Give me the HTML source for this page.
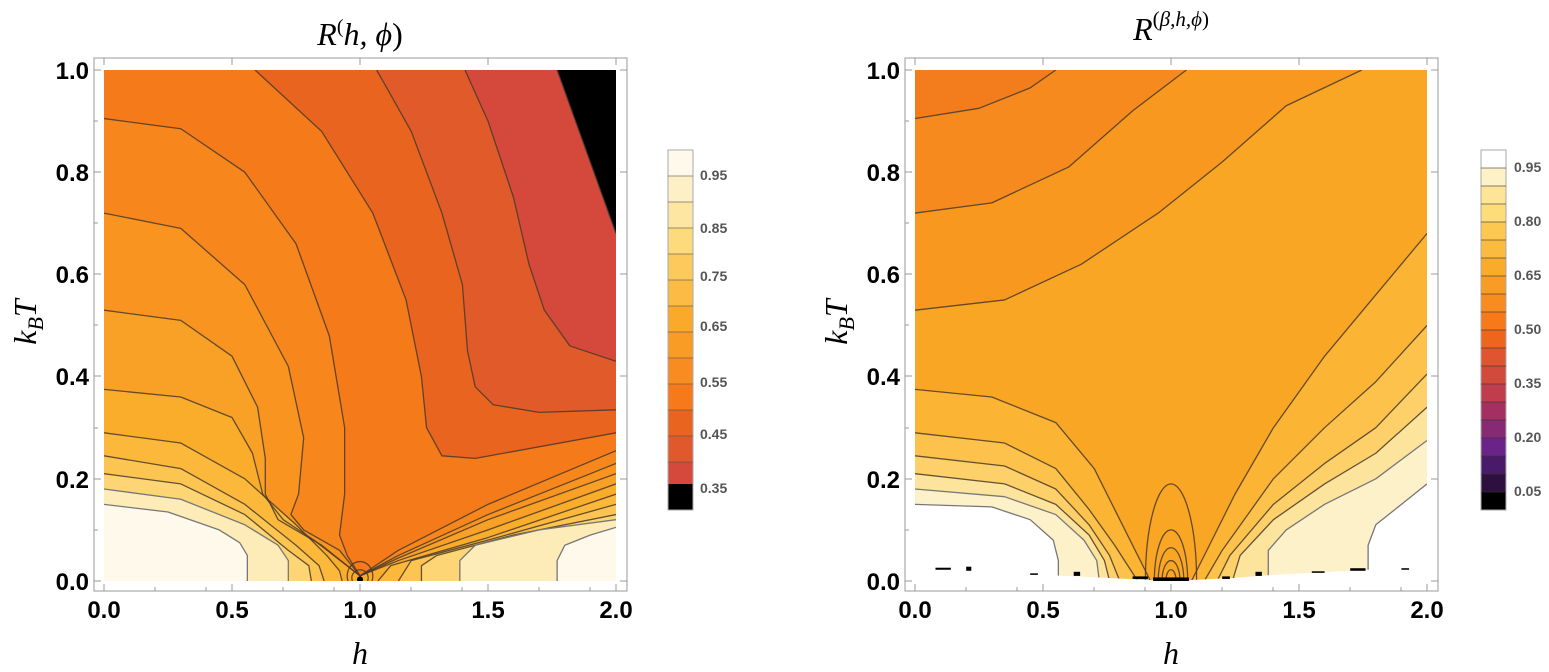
<!DOCTYPE html>
<html><head><meta charset="utf-8"><style>
html,body{margin:0;padding:0;background:#fff;width:1549px;height:672px;overflow:hidden}
svg{display:block}
.tk{font-family:"Liberation Sans",sans-serif;font-weight:bold;font-size:24px;fill:#000}
.cb{font-family:"Liberation Sans",sans-serif;font-weight:bold;font-size:14px;fill:#555}
.ax{font-family:"Liberation Serif",serif;font-style:italic;font-size:32px;fill:#000}
.ln{fill:none;stroke:#4a3a2a;stroke-opacity:.85;stroke-width:1.3;vector-effect:non-scaling-stroke;stroke-linejoin:round}
.lg{fill:none;stroke:#777;stroke-width:1.3;vector-effect:non-scaling-stroke;stroke-linejoin:round}
</style></head><body>
<svg width="1549" height="672" viewBox="0 0 1549 672" xmlns="http://www.w3.org/2000/svg">
<defs><clipPath id="pc" clipPathUnits="userSpaceOnUse"><rect x="0" y="0" width="2" height="1"/></clipPath></defs>
<!-- LEFT PLOT -->
<g transform="matrix(256,0,0,-511,104,581)" clip-path="url(#pc)">
<rect x="0" y="0" width="2" height="1" fill="#000"/>
<polygon fill="#d4493c" points="0,0 0,1 1.77,1 2,0.68 2,0"/>
<polygon fill="#e05a2a" points="0,0 0,1 1.41,1 1.5,0.9 1.6,0.75 1.66,0.62 1.72,0.53 1.82,0.46 2,0.43 2,0"/>
<polygon fill="#e9651f" points="0,0 0,1 1.065,1 1.2,0.88 1.32,0.72 1.4,0.58 1.42,0.45 1.45,0.38 1.52,0.345 1.7,0.33 2,0.335 2,0"/>
<polygon fill="#f47a1a" points="0,0 0,1 0.59,1 0.85,0.88 1.05,0.72 1.18,0.55 1.24,0.4 1.26,0.3 1.32,0.245 1.45,0.24 2,0.29 2,0"/>
<polygon fill="#f7871d" points="0,0 0,0.905 0.3,0.885 0.55,0.8 0.75,0.66 0.88,0.48 0.94,0.3 0.94,0.17 0.92,0.09 0.95,0.05 1,0.01 1.15,0.06 1.5,0.15 2,0.255 2,0"/>
<polygon fill="#f8941f" points="0,0 0,0.72 0.3,0.69 0.55,0.58 0.72,0.42 0.78,0.28 0.76,0.17 0.73,0.13 0.78,0.1 0.92,0.06 1,0.01 1.15,0.05 1.5,0.13 2,0.23 2,0"/>
<polygon fill="#f9a126" points="0,0 0,0.53 0.3,0.51 0.5,0.44 0.6,0.34 0.63,0.24 0.63,0.17 0.68,0.12 0.85,0.07 1,0.01 1.15,0.045 1.5,0.12 2,0.21 2,0"/>
<polygon fill="#faac2b" points="0,0 0,0.375 0.3,0.36 0.5,0.32 0.58,0.25 0.62,0.17 0.7,0.12 0.82,0.08 1,0.01 1.15,0.04 1.5,0.1 2,0.19 2,0"/>
<polygon fill="#fbb83a" points="0,0 0,0.29 0.3,0.27 0.55,0.2 0.75,0.11 0.87,0.05 0.92,0.02 0.93,0"/>
<polygon fill="#fbb83a" points="2,0 1.07,0 1.12,0.03 1.5,0.085 2,0.17"/>
<polygon fill="#fcc552" points="0,0 0,0.245 0.3,0.22 0.55,0.15 0.75,0.07 0.84,0.03 0.86,0"/>
<polygon fill="#fcc552" points="2,0 1.15,0 1.2,0.04 1.5,0.08 2,0.15"/>
<polygon fill="#fdd574" points="0,0 0,0.21 0.3,0.19 0.55,0.13 0.72,0.06 0.8,0.03 0.81,0"/>
<polygon fill="#fdd574" points="2,0 1.24,0 1.24,0.03 1.3,0.05 1.6,0.09 2,0.13"/>
<polygon fill="#fdecb8" points="0,0 0,0.18 0.3,0.16 0.55,0.11 0.68,0.07 0.72,0.04 0.72,0"/>
<polygon fill="#fdecb8" points="2,0 1.39,0 1.39,0.04 1.45,0.07 1.7,0.1 2,0.12"/>
<polygon fill="#fef9ea" points="0,0 0,0.15 0.25,0.135 0.45,0.1 0.53,0.075 0.56,0.05 0.56,0"/>
<polygon fill="#fef9ea" points="2,0 1.77,0 1.77,0.04 1.8,0.07 1.9,0.09 2,0.105"/>
<ellipse cx="1" cy="0.01" rx="0.05" ry="0.028" fill="#e8641f" class="ln"/>
<ellipse cx="1" cy="0.006" rx="0.032" ry="0.016" fill="#d4493c" class="ln"/>
<ellipse cx="1" cy="0.003" rx="0.012" ry="0.006" fill="#000"/>
<polyline class="ln" points="1.77,1 2,0.68"/>
<polyline class="ln" points="1.41,1 1.5,0.9 1.6,0.75 1.66,0.62 1.72,0.53 1.82,0.46 2,0.43"/>
<polyline class="ln" points="1.065,1 1.2,0.88 1.32,0.72 1.4,0.58 1.42,0.45 1.45,0.38 1.52,0.345 1.7,0.33 2,0.335"/>
<polyline class="ln" points="0.59,1 0.85,0.88 1.05,0.72 1.18,0.55 1.24,0.4 1.26,0.3 1.32,0.245 1.45,0.24 2,0.29"/>
<polyline class="ln" points="0,0.905 0.3,0.885 0.55,0.8 0.75,0.66 0.88,0.48 0.94,0.3 0.94,0.17 0.92,0.09 0.95,0.05 1,0.01 1.15,0.06 1.5,0.15 2,0.255"/>
<polyline class="ln" points="0,0.72 0.3,0.69 0.55,0.58 0.72,0.42 0.78,0.28 0.76,0.17 0.73,0.13 0.78,0.1 0.92,0.06 1,0.01 1.15,0.05 1.5,0.13 2,0.23"/>
<polyline class="ln" points="0,0.53 0.3,0.51 0.5,0.44 0.6,0.34 0.63,0.24 0.63,0.17 0.68,0.12 0.85,0.07 1,0.01 1.15,0.045 1.5,0.12 2,0.21"/>
<polyline class="ln" points="0,0.375 0.3,0.36 0.5,0.32 0.58,0.25 0.62,0.17 0.7,0.12 0.82,0.08 1,0.01 1.15,0.04 1.5,0.1 2,0.19"/>
<polyline class="ln" points="0,0.29 0.3,0.27 0.55,0.2 0.75,0.11 0.87,0.05 0.92,0.02 0.93,0"/>
<polyline class="ln" points="1.07,0 1.12,0.03 1.5,0.085 2,0.17"/>
<polyline class="ln" points="0,0.245 0.3,0.22 0.55,0.15 0.75,0.07 0.84,0.03 0.86,0"/>
<polyline class="ln" points="1.15,0 1.2,0.04 1.5,0.08 2,0.15"/>
<polyline class="ln" points="0,0.21 0.3,0.19 0.55,0.13 0.72,0.06 0.8,0.03 0.81,0"/>
<polyline class="ln" points="1.24,0 1.24,0.03 1.3,0.05 1.6,0.09 2,0.13"/>
<polyline class="lg" points="0,0.18 0.3,0.16 0.55,0.11 0.68,0.07 0.72,0.04 0.72,0"/>
<polyline class="lg" points="1.39,0 1.39,0.04 1.45,0.07 1.7,0.1 2,0.12"/>
<polyline class="lg" points="0,0.15 0.25,0.135 0.45,0.1 0.53,0.075 0.56,0.05 0.56,0"/>
<polyline class="lg" points="1.77,0 1.77,0.04 1.8,0.07 1.9,0.09 2,0.105"/>
</g>
<rect x="94" y="58" width="533" height="533" fill="none" stroke="#aaa" stroke-width="1.2"/>
<g stroke="#999" stroke-width="1">
<path d="M104,591v-7M232,591v-7M360,591v-7M488,591v-7M616,591v-7M104,58v7M232,58v7M360,58v7M488,58v7M616,58v7"/>
<path d="M94,581h7M94,479h7M94,376h7M94,274h7M94,172h7M94,70h7M627,581h-7M627,479h-7M627,376h-7M627,274h-7M627,172h-7M627,70h-7"/>
<path d="M155,591v-4M206,591v-4M283,591v-4M334,591v-4M411,591v-4M462,591v-4M539,591v-4M590,591v-4M94,530h4M94,428h4M94,325h4M94,223h4M94,121h4"/>
</g>
<g class="tk" text-anchor="end">
<text x="89" y="590">0.0</text><text x="89" y="488">0.2</text><text x="89" y="385">0.4</text><text x="89" y="283">0.6</text><text x="89" y="181">0.8</text><text x="89" y="79">1.0</text>
</g>
<g class="tk" text-anchor="middle">
<text x="104" y="618">0.0</text><text x="232" y="618">0.5</text><text x="360" y="618">1.0</text><text x="488" y="618">1.5</text><text x="616" y="618">2.0</text>
</g>
<text class="ax" x="360" y="664" text-anchor="middle">h</text>
<text class="ax" transform="translate(36,322) rotate(-90)" text-anchor="middle">k<tspan font-size="22" dy="7">B</tspan><tspan dy="-7">T</tspan></text>
<text class="ax" x="360" y="45" text-anchor="middle">R<tspan font-size="20" dy="-12" font-style="normal">(</tspan><tspan dy="12">h, ϕ</tspan><tspan font-style="normal">)</tspan></text>
<!-- left colorbar -->
<g>
<rect x="668" y="150" width="25" height="26" fill="#fef9ea"/><rect x="668" y="176" width="25" height="26" fill="#fdf0c6"/>
<rect x="668" y="202" width="25" height="26" fill="#fde6a2"/><rect x="668" y="228" width="25" height="26" fill="#fddb7c"/>
<rect x="668" y="254" width="25" height="26" fill="#fcc95c"/><rect x="668" y="280" width="25" height="26" fill="#fbbb44"/>
<rect x="668" y="306" width="25" height="26" fill="#faa92a"/><rect x="668" y="332" width="25" height="26" fill="#f99c25"/>
<rect x="668" y="358" width="25" height="26" fill="#f88c20"/><rect x="668" y="384" width="25" height="26" fill="#f77a1a"/>
<rect x="668" y="410" width="25" height="26" fill="#e8641f"/><rect x="668" y="436" width="25" height="26" fill="#e0582c"/>
<rect x="668" y="462" width="25" height="22" fill="#d4493c"/><rect x="668" y="484" width="25" height="26" fill="#000"/>
<rect x="668" y="150" width="25" height="360" fill="none" stroke="#aaa"/>
<path d="M668,176h25M668,202h25M668,228h25M668,254h25M668,280h25M668,306h25M668,332h25M668,358h25M668,384h25M668,410h25M668,436h25M668,462h25" stroke="#555" stroke-opacity=".6"/>
<g class="cb"><text x="700" y="180">0.95</text><text x="700" y="233">0.85</text><text x="700" y="281">0.75</text><text x="700" y="331">0.65</text><text x="700" y="387">0.55</text><text x="700" y="439">0.45</text><text x="700" y="493">0.35</text></g>
</g>

<!-- RIGHT PLOT -->
<g transform="matrix(256,0,0,-511,915,581)" clip-path="url(#pc)">
<rect x="0" y="0" width="2" height="1" fill="#f37c1c"/>
<polygon fill="#f68a1e" points="0,0 0,0.905 0.25,0.925 0.45,0.965 0.55,1 2,1 2,0"/>
<polygon fill="#f8981f" points="0,0 0,0.72 0.3,0.74 0.6,0.81 0.85,0.92 1.06,1 2,1 2,0"/>
<polygon fill="#faa625" points="0,0 0,0.53 0.35,0.55 0.65,0.62 0.95,0.72 1.2,0.82 1.45,0.93 1.745,1 2,1 2,0"/>
<polygon fill="#fbb434" points="0,0 0,0.375 0.3,0.36 0.55,0.31 0.7,0.22 0.8,0.12 0.87,0.05 0.92,0"/>
<polygon fill="#fbb434" points="2,0 1.08,0 1.15,0.07 1.25,0.17 1.4,0.3 1.6,0.44 1.8,0.56 2,0.68"/>
<polygon fill="#fcc24c" points="0,0 0,0.29 0.35,0.27 0.55,0.22 0.68,0.14 0.78,0.07 0.87,0"/>
<polygon fill="#fcc24c" points="2,0 1.13,0 1.2,0.06 1.4,0.2 1.6,0.3 1.8,0.39 2,0.5"/>
<polygon fill="#fdd069" points="0,0 0,0.245 0.35,0.225 0.55,0.18 0.68,0.11 0.76,0.05 0.8,0"/>
<polygon fill="#fdd069" points="2,0 1.18,0 1.23,0.05 1.4,0.15 1.6,0.23 1.8,0.3 2,0.405"/>
<polygon fill="#fde49c" points="0,0 0,0.21 0.35,0.19 0.55,0.15 0.68,0.09 0.74,0.04 0.76,0"/>
<polygon fill="#fde49c" points="2,0 1.24,0 1.27,0.05 1.4,0.12 1.6,0.19 1.8,0.25 2,0.34"/>
<polygon fill="#fdf1ca" points="0,0 0,0.18 0.35,0.165 0.55,0.13 0.66,0.08 0.71,0.04 0.72,0"/>
<polygon fill="#fdf1ca" points="2,0 1.38,0 1.38,0.06 1.45,0.1 1.6,0.15 1.8,0.2 2,0.275"/>
<polygon fill="#fff" points="0,0 0,0.15 0.3,0.145 0.45,0.12 0.54,0.08 0.56,0.04 0.56,0"/>
<polygon fill="#fff" points="2,0 1.77,0 1.77,0.07 1.8,0.11 1.9,0.15 2,0.19"/>
<ellipse cx="1" cy="0" rx="0.1" ry="0.19" fill="#f9a026" class="ln"/>
<ellipse cx="1" cy="0" rx="0.065" ry="0.1" fill="#f88f1f" class="ln"/>
<ellipse cx="1" cy="0" rx="0.05" ry="0.065" fill="#f77d1b" class="ln"/>
<ellipse cx="1" cy="0" rx="0.035" ry="0.04" fill="#ee661e" class="ln"/>
<ellipse cx="1" cy="0" rx="0.02" ry="0.022" fill="#d24a3c" class="ln"/>
<polyline class="ln" points="0,0.905 0.25,0.925 0.45,0.965 0.55,1"/>
<polyline class="ln" points="0,0.72 0.3,0.74 0.6,0.81 0.85,0.92 1.06,1"/>
<polyline class="ln" points="0,0.53 0.35,0.55 0.65,0.62 0.95,0.72 1.2,0.82 1.45,0.93 1.745,1"/>
<polyline class="ln" points="0,0.375 0.3,0.36 0.55,0.31 0.7,0.22 0.8,0.12 0.87,0.05 0.92,0"/>
<polyline class="ln" points="1.08,0 1.15,0.07 1.25,0.17 1.4,0.3 1.6,0.44 1.8,0.56 2,0.68"/>
<polyline class="ln" points="0,0.29 0.35,0.27 0.55,0.22 0.68,0.14 0.78,0.07 0.87,0"/>
<polyline class="ln" points="1.13,0 1.2,0.06 1.4,0.2 1.6,0.3 1.8,0.39 2,0.5"/>
<polyline class="ln" points="0,0.245 0.35,0.225 0.55,0.18 0.68,0.11 0.76,0.05 0.8,0"/>
<polyline class="ln" points="1.18,0 1.23,0.05 1.4,0.15 1.6,0.23 1.8,0.3 2,0.405"/>
<polyline class="ln" points="0,0.21 0.35,0.19 0.55,0.15 0.68,0.09 0.74,0.04 0.76,0"/>
<polyline class="ln" points="1.24,0 1.27,0.05 1.4,0.12 1.6,0.19 1.8,0.25 2,0.34"/>
<polyline class="lg" points="0,0.18 0.35,0.165 0.55,0.13 0.66,0.08 0.71,0.04 0.72,0"/>
<polyline class="lg" points="1.38,0 1.38,0.06 1.45,0.1 1.6,0.15 1.8,0.2 2,0.275"/>
<polyline class="lg" points="0,0.15 0.3,0.145 0.45,0.12 0.54,0.08 0.56,0.04 0.56,0"/>
<polyline class="lg" points="1.77,0 1.77,0.07 1.8,0.11 1.9,0.15 2,0.19"/>
<polygon fill="#fff" points="0.5,-0.02 0.5,0.012 0.75,0.006 1,0 1.25,0.006 1.4,0.012 1.77,0.022 2.01,0.022 2.01,-0.02"/>
<g fill="#000">
<rect x="0.08" y="0.022" width="0.06" height="0.004"/><rect x="0.2" y="0.02" width="0.02" height="0.008"/>
<rect x="0.45" y="0.012" width="0.03" height="0.003"/><rect x="0.62" y="0.01" width="0.025" height="0.008"/>
<rect x="0.85" y="0.004" width="0.06" height="0.005"/><rect x="0.93" y="0" width="0.14" height="0.007"/>
<rect x="1.2" y="0.004" width="0.03" height="0.005"/><rect x="1.33" y="0.01" width="0.025" height="0.008"/>
<rect x="1.55" y="0.016" width="0.05" height="0.003"/><rect x="1.7" y="0.02" width="0.06" height="0.005"/>
<rect x="1.9" y="0.022" width="0.03" height="0.003"/>
</g>
</g>
<rect x="905" y="58" width="533" height="533" fill="none" stroke="#aaa" stroke-width="1.2"/>
<g stroke="#999" stroke-width="1">
<path d="M915,591v-7M1043,591v-7M1171,591v-7M1299,591v-7M1427,591v-7M915,58v7M1043,58v7M1171,58v7M1299,58v7M1427,58v7"/>
<path d="M905,581h7M905,479h7M905,376h7M905,274h7M905,172h7M905,70h7M1438,581h-7M1438,479h-7M1438,376h-7M1438,274h-7M1438,172h-7M1438,70h-7"/>
<path d="M966,591v-4M1017,591v-4M1094,591v-4M1145,591v-4M1222,591v-4M1273,591v-4M1350,591v-4M1401,591v-4M905,530h4M905,428h4M905,325h4M905,223h4M905,121h4"/>
</g>
<g class="tk" text-anchor="end">
<text x="900" y="590">0.0</text><text x="900" y="488">0.2</text><text x="900" y="385">0.4</text><text x="900" y="283">0.6</text><text x="900" y="181">0.8</text><text x="900" y="79">1.0</text>
</g>
<g class="tk" text-anchor="middle">
<text x="915" y="618">0.0</text><text x="1043" y="618">0.5</text><text x="1171" y="618">1.0</text><text x="1299" y="618">1.5</text><text x="1427" y="618">2.0</text>
</g>
<text class="ax" x="1171" y="664" text-anchor="middle">h</text>
<text class="ax" transform="translate(847,322) rotate(-90)" text-anchor="middle">k<tspan font-size="22" dy="7">B</tspan><tspan dy="-7">T</tspan></text>
<text class="ax" x="1171" y="40" text-anchor="middle">R<tspan font-size="21" dy="-14"><tspan font-style="normal">(</tspan>β,h,ϕ<tspan font-style="normal">)</tspan></tspan></text>
<!-- right colorbar -->
<g>
<rect x="1481" y="150" width="25" height="18" fill="#fff"/><rect x="1481" y="168" width="25" height="18" fill="#fdf1c7"/>
<rect x="1481" y="186" width="25" height="18" fill="#fde497"/><rect x="1481" y="204" width="25" height="18" fill="#fddc7a"/>
<rect x="1481" y="222" width="25" height="18" fill="#fcc850"/><rect x="1481" y="240" width="25" height="18" fill="#fbbb40"/>
<rect x="1481" y="258" width="25" height="18" fill="#faab2c"/><rect x="1481" y="276" width="25" height="18" fill="#f99c24"/>
<rect x="1481" y="294" width="25" height="18" fill="#f88c1e"/><rect x="1481" y="312" width="25" height="18" fill="#f77a1a"/>
<rect x="1481" y="330" width="25" height="18" fill="#ee661e"/><rect x="1481" y="348" width="25" height="18" fill="#e05530"/>
<rect x="1481" y="366" width="25" height="18" fill="#d24a3c"/><rect x="1481" y="384" width="25" height="18" fill="#bf3d4c"/>
<rect x="1481" y="402" width="25" height="18" fill="#a33060"/><rect x="1481" y="420" width="25" height="18" fill="#862a74"/>
<rect x="1481" y="438" width="25" height="18" fill="#6a2388"/><rect x="1481" y="456" width="25" height="18" fill="#4a1a6a"/>
<rect x="1481" y="474" width="25" height="18" fill="#2e1040"/><rect x="1481" y="492" width="25" height="18" fill="#000"/>
<rect x="1481" y="150" width="25" height="360" fill="none" stroke="#aaa"/>
<path d="M1481,168h25M1481,186h25M1481,204h25M1481,222h25M1481,240h25M1481,258h25M1481,276h25M1481,294h25M1481,312h25M1481,330h25M1481,348h25M1481,366h25M1481,384h25M1481,402h25M1481,420h25M1481,438h25M1481,456h25M1481,474h25M1481,492h25" stroke="#333" stroke-opacity=".6"/>
<g class="cb"><text x="1514" y="172">0.95</text><text x="1514" y="226">0.80</text><text x="1514" y="280">0.65</text><text x="1514" y="334">0.50</text><text x="1514" y="388">0.35</text><text x="1514" y="442">0.20</text><text x="1514" y="496">0.05</text></g>
</g>
</svg>
</body></html>
